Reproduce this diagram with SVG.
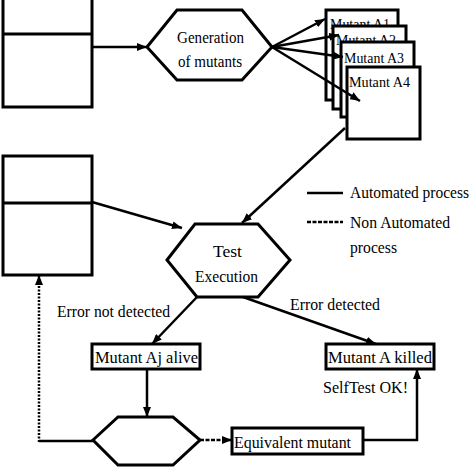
<svg xmlns="http://www.w3.org/2000/svg" width="474" height="474" viewBox="0 0 474 474">
<style>
.box{fill:#fff;stroke:#000;stroke-width:3}
.ln{fill:none;stroke:#000;stroke-width:2.5}
.dash{fill:none;stroke:#000;stroke-width:2.5;stroke-dasharray:4 1.5}
text{font-family:"Liberation Serif","DejaVu Serif";font-size:16px;fill:#000}
.m{font-size:14.5px}
</style>
<defs>
<marker id="ah" markerWidth="10" markerHeight="8" refX="10" refY="4" orient="auto" markerUnits="userSpaceOnUse">
<path d="M0,0 L10,4 L0,8 Z" fill="#000"/>
</marker>
</defs>
<rect width="474" height="474" fill="#fff"/>
<g id="box1"><rect class="box" x="3" y="-5" width="89" height="112"/><line class="box" x1="3" y1="34" x2="92" y2="34"/></g>
<g id="box2"><rect class="box" x="3" y="156" width="89" height="119"/><line class="box" x1="3" y1="203" x2="92" y2="203"/></g>
<g id="gen"><polygon class="box" points="147,47 177,10 242,10 272,47 242,80 177,80"/>
<text x="177" y="43" textLength="67" lengthAdjust="spacingAndGlyphs">Generation</text>
<text x="178" y="67" textLength="64" lengthAdjust="spacingAndGlyphs">of mutants</text></g>
<g id="mutants">
<g id="mA1"><rect class="box" x="326" y="10" width="72" height="90"/><text class="m" x="330" y="29" textLength="60" lengthAdjust="spacingAndGlyphs">Mutant A1</text></g>
<g id="mA2"><rect class="box" x="333" y="26" width="73" height="83"/><text class="m" x="336" y="45" textLength="60" lengthAdjust="spacingAndGlyphs">Mutant A2</text></g>
<g id="mA3"><rect class="box" x="341" y="42" width="73" height="75"/><text class="m" x="344" y="63" textLength="60" lengthAdjust="spacingAndGlyphs">Mutant A3</text></g>
<g id="mA4"><rect class="box" x="347" y="67" width="73" height="72"/><text class="m" x="349" y="87" textLength="61" lengthAdjust="spacingAndGlyphs">Mutant A4</text></g>
</g>
<g id="test"><polygon class="box" points="167,260 195,224 258,224 290,260 258,297 197,297"/>
<text x="213" y="257" textLength="29" lengthAdjust="spacingAndGlyphs">Test</text>
<text x="195" y="282" textLength="63" lengthAdjust="spacingAndGlyphs">Execution</text></g>
<g id="legend">
<line class="ln" x1="307" y1="193" x2="343" y2="193"/>
<line class="dash" x1="307" y1="222" x2="343" y2="222"/>
<text x="350" y="198" textLength="119" lengthAdjust="spacingAndGlyphs">Automated process</text>
<text x="350" y="228" textLength="100" lengthAdjust="spacingAndGlyphs">Non Automated</text>
<text x="350" y="253" textLength="47" lengthAdjust="spacingAndGlyphs">process</text>
</g>
<g id="alive"><rect class="box" x="92" y="344" width="108" height="25"/><text x="95" y="363" textLength="103" lengthAdjust="spacingAndGlyphs">Mutant Aj  alive</text></g>
<g id="killed"><rect class="box" x="326" y="344" width="108" height="25"/><text x="328" y="363" textLength="104" lengthAdjust="spacingAndGlyphs">Mutant A  killed</text></g>
<g id="hex3"><polygon class="box" points="93,440 118,417 173,417 200,440 173,465 118,465"/></g>
<g id="equiv"><rect class="box" x="232" y="428" width="131" height="26"/><text x="234" y="448" textLength="117" lengthAdjust="spacingAndGlyphs">Equivalent mutant</text></g>
<g id="labels">
<text x="57" y="317" textLength="113" lengthAdjust="spacingAndGlyphs">Error not detected</text>
<text x="290" y="310" textLength="90" lengthAdjust="spacingAndGlyphs">Error detected</text>
<text x="323" y="393" textLength="85" lengthAdjust="spacingAndGlyphs">SelfTest OK!</text>
</g>
<g id="connectors">
<line class="ln" x1="92" y1="47" x2="147" y2="47" marker-end="url(#ah)"/>
<line class="ln" x1="272" y1="47" x2="325" y2="19" marker-end="url(#ah)"/>
<line class="ln" x1="272" y1="47" x2="339" y2="35" marker-end="url(#ah)"/>
<line class="ln" x1="272" y1="47" x2="343" y2="57" marker-end="url(#ah)"/>
<line class="ln" x1="272" y1="47" x2="360" y2="101" marker-end="url(#ah)"/>
<line class="ln" x1="345" y1="128" x2="242" y2="223" marker-end="url(#ah)"/>
<line class="ln" x1="92" y1="202" x2="182" y2="228" marker-end="url(#ah)"/>
<line class="ln" x1="197" y1="297" x2="152" y2="344" marker-end="url(#ah)"/>
<line class="ln" x1="243" y1="297" x2="376" y2="344" marker-end="url(#ah)"/>
<line class="ln" x1="147" y1="369" x2="147" y2="417" marker-end="url(#ah)"/>
<line class="dash" x1="200" y1="440" x2="232" y2="440" marker-end="url(#ah)"/>
<polyline class="ln" points="363,440 417,440 417,369" marker-end="url(#ah)"/>
<line class="ln" x1="93" y1="441" x2="39" y2="441"/>
<line class="dash" x1="39" y1="442" x2="39" y2="275" marker-end="url(#ah)" style="stroke-dasharray:2 1.5"/>
</g>
</svg>
